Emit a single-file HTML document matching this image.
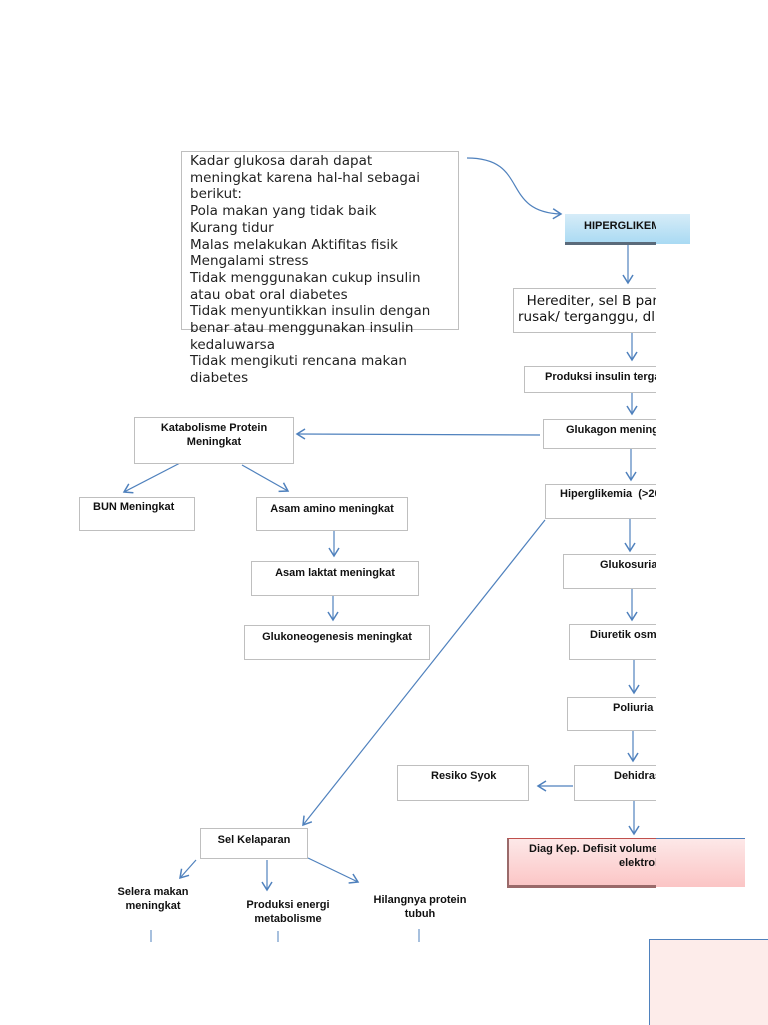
<!DOCTYPE html>
<html><head><meta charset="utf-8"><style>
body{margin:0;width:768px;height:1024px;background:#fff;position:relative;overflow:hidden;font-family:"Liberation Sans",sans-serif}
.b{position:absolute;border:1px solid #bfbfbf;background:#fff;box-sizing:border-box;font-weight:bold;font-size:11px;color:#111;text-align:center;padding-top:5px;white-space:nowrap;overflow:hidden}
.r{border-right:none}
.t{position:absolute;font-weight:bold;font-size:11px;text-align:center;color:#111;line-height:14px}
</style></head><body>
<svg style="position:absolute;left:0;top:0" width="768" height="1024">
<defs><marker id="a" markerWidth="12" markerHeight="12" refX="9" refY="6" orient="auto" markerUnits="userSpaceOnUse"><path d="M1,1 L9,6 L1,11" fill="none" stroke="#4f81bd" stroke-width="1.5"/></marker></defs>
<g stroke="#4f81bd" stroke-width="1.2" fill="none" marker-end="url(#a)">
<path d="M467,158 C530,158 500,212 561,214"/>
<path d="M628,245 L628,283"/>
<path d="M632,333 L632,360"/>
<path d="M632,393 L632,414"/>
<path d="M631,449 L631,480"/>
<path d="M630,519 L630,551"/>
<path d="M632,589 L632,620"/>
<path d="M634,660 L634,693"/>
<path d="M633,731 L633,761"/>
<path d="M573,786 L538,786"/>
<path d="M634,801 L634,834"/>
<path d="M540,435 L297,434"/>
<path d="M182,462 L124,492"/>
<path d="M242,465 L288,491"/>
<path d="M334,531 L334,556"/>
<path d="M333,596 L333,620"/>
<path d="M545,520 L303,825"/>
<path d="M196,860 L180,878"/>
<path d="M267,860 L267,890"/>
<path d="M308,858 L358,882"/>
</g>
<g stroke="#4f81bd" stroke-width="1"><path d="M151,930V942M278,931V942M419,929V942"/></g>
</svg>
<div style="position:absolute;left:181px;top:151px;width:278px;height:179px;border:1px solid #bfbfbf;box-sizing:border-box"></div>
<div style="position:absolute;left:190px;top:153px;font-family:'DejaVu Sans',sans-serif;font-size:13.5px;line-height:16.7px;color:#222;white-space:nowrap">Kadar glukosa darah dapat<br>meningkat karena hal-hal sebagai<br>berikut:<br>Pola makan yang tidak baik<br>Kurang tidur<br>Malas melakukan Aktifitas fisik<br>Mengalami stress<br>Tidak menggunakan cukup insulin<br>atau obat oral diabetes<br>Tidak menyuntikkan insulin dengan<br>benar atau menggunakan insulin<br>kedaluwarsa<br>Tidak mengikuti rencana makan<br>diabetes</div>
<div style="position:absolute;left:565px;top:214px;width:125px;height:30px;background:linear-gradient(#d6ecf8,#a9daf3)"></div>
<div style="position:absolute;left:565px;top:242px;width:91px;height:3px;background:#5a6a7a"></div>
<div style="position:absolute;left:0;top:0;width:656px;height:1024px;overflow:hidden">
<div class="b r" style="left:565px;top:214px;width:120px;height:30px;background:transparent;border:none;text-align:left;padding:6px 0 0 19px">HIPERGLIKEMIA</div>
<div class="b r" style="left:513px;top:288px;width:160px;height:45px;font-weight:normal;font-family:'DejaVu Sans',sans-serif;font-size:13.5px;line-height:16px;text-align:left;padding:4px 0 0 4px">&nbsp;&nbsp;Herediter, sel B pankreas<br>rusak/ terganggu, dll</div>
<div class="b r" style="left:524px;top:366px;width:160px;height:27px;text-align:left;padding:4px 0 0 20px">Produksi insulin terganggu</div>
<div class="b r" style="left:543px;top:419px;width:160px;height:30px;text-align:left;padding:4px 0 0 22px">Glukagon meningkat</div>
<div class="b r" style="left:545px;top:484px;width:160px;height:35px;text-align:left;padding:3px 0 0 14px">Hiperglikemia &nbsp;(&gt;200)</div>
<div class="b r" style="left:563px;top:554px;width:160px;height:35px;text-align:left;padding:4px 0 0 36px">Glukosuria</div>
<div class="b r" style="left:569px;top:624px;width:160px;height:36px;text-align:left;padding:4px 0 0 20px">Diuretik osmotik</div>
<div class="b r" style="left:567px;top:697px;width:160px;height:34px;text-align:left;padding:4px 0 0 45px">Poliuria</div>
<div class="b r" style="left:574px;top:765px;width:160px;height:36px;text-align:left;padding:4px 0 0 39px">Dehidrasi</div>
</div>
<div style="position:absolute;left:507px;top:838px;width:238px;height:49px;background:linear-gradient(#fde8e8,#fbc5c5);border-top:1px solid #4f81bd;box-sizing:border-box"></div>
<div style="position:absolute;left:507px;top:838px;width:149px;height:50px;border-left:2px solid #9a6a6a;border-bottom:3px solid #9a6a6a;border-top:1px solid #c0504d;box-sizing:border-box;font-weight:bold;font-size:11px;color:#111;overflow:hidden;white-space:nowrap;padding:3px 0 0 20px;line-height:14px">Diag Kep. Defisit volume cairan<br><span style="padding-left:90px">elektrolit</span></div>
<div style="position:absolute;left:649px;top:939px;width:119px;height:85px;background:#fdecea;border-left:1px solid #4f81bd;border-top:1px solid #4f81bd"></div>
<div class="b" style="left:397px;top:765px;width:132px;height:36px;text-align:left;padding:4px 0 0 33px">Resiko Syok</div>
<div class="b" style="left:134px;top:417px;width:160px;height:47px;padding-top:3px;line-height:14px">Katabolisme Protein<br>Meningkat</div>
<div class="b" style="left:79px;top:497px;width:116px;height:34px;text-align:left;padding:3px 0 0 13px">BUN Meningkat</div>
<div class="b" style="left:256px;top:497px;width:152px;height:34px">Asam amino meningkat</div>
<div class="b" style="left:251px;top:561px;width:168px;height:35px">Asam laktat meningkat</div>
<div class="b" style="left:244px;top:625px;width:186px;height:35px">Glukoneogenesis meningkat</div>
<div class="b" style="left:200px;top:828px;width:108px;height:31px">Sel Kelaparan</div>
<div class="t" style="left:100px;top:885px;width:106px">Selera makan<br>meningkat</div>
<div class="t" style="left:230px;top:898px;width:116px">Produksi energi<br>metabolisme</div>
<div class="t" style="left:360px;top:893px;width:120px">Hilangnya protein<br>tubuh</div>
</body></html>
